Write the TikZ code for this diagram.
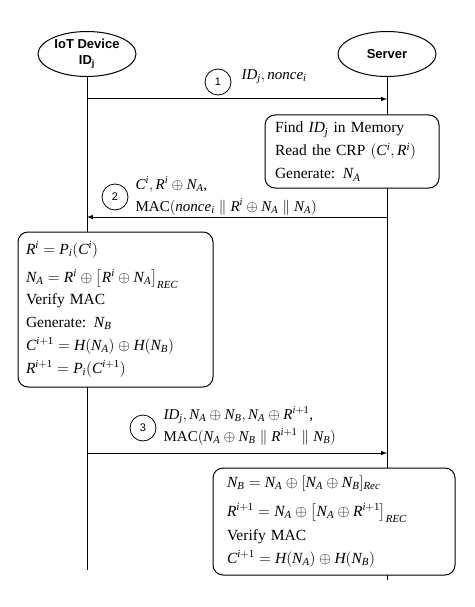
\RequirePackage{fix-cm}
\documentclass[tikz,border=0pt]{standalone}
\usepackage{amsmath}
\usepackage{mathspec}
\setmainfont{Liberation Serif}
\setmathsfont(Digits,Latin){Liberation Serif}
\newfontfamily\headfont{Liberation Sans}
\usetikzlibrary{shapes,arrows,positioning}
\tikzstyle{actor} = [ellipse, draw, line width=1pt, minimum width=98pt, minimum height=45pt, align=center, inner sep=1pt, font=\headfont\bfseries\fontsize{13}{16}\selectfont]
\tikzstyle{calc} = [draw, rounded corners=10pt, line width=1pt, fill=white, align=left, font=\fontsize{15.5}{23}\selectfont]
\tikzstyle{num} = [circle, draw, line width=0.8pt, minimum size=26pt, inner sep=0pt, font=\headfont\fontsize{11}{11}\selectfont]
\tikzstyle{msg} = [draw=none, fill=none, anchor=west, align=left, inner sep=0pt, font=\fontsize{15}{22}\selectfont]
\tikzstyle{tedge}  = [draw, line width=1pt, >=latex, ->]
\tikzstyle{lifeline} = [draw, line width=1pt]

\begin{document}
\begin{tikzpicture}[x=1pt,y=-1pt]
\useasboundingbox (0,0) rectangle (474,607);

% actors =============================
\node[actor] (dev) at (87,54) {IoT Device\\ID\textsubscript{j}};
\node[actor] (srv) at (387,54) {Server};

% lifelines
\coordinate (devend) at (87,570);
\coordinate (srvend) at (387,580);
\path[lifeline] (dev.south) -- (devend);
\path[lifeline] (srv.south) -- (srvend);

% message 1
\coordinate (d1) at (87,99);
\coordinate (s1) at (387,99);
\path[tedge] (d1) -- (s1);
\node[num] (n1) at (218,82) {1};
\node[msg, right=10pt of n1, yshift=5pt] (m1) {$ID_j, nonce_i$};

% server: lookup
\node[calc, text width=154pt, inner xsep=10pt, minimum height=73pt] (look) at (352,151.5)
  {Find $ID_j$ in Memory\\
   Read the CRP $(C^i, R^i)$\\
   Generate: $N_A$};

% message 2
\coordinate (s2) at (387,217);
\coordinate (d2) at (87,217);
\path[tedge] (s2) -- (d2);
\node[num] (n2) at (115,197) {2};
\node[msg, right=7pt of n2, yshift=1pt] (m2)
  {$C^i, R^i \oplus N_A$,\\
   MAC$(nonce_i \parallel R^i \oplus N_A \parallel N_A)$};

% device: verify and update
\node[calc, text width=179pt, inner xsep=8pt, minimum height=155pt] (devcalc) at (115.5,309.5)
  {$R^i = P_i(C^i)$\\[5pt]
   $N_A = R^i \oplus \bigl[R^i \oplus N_A\bigr]_{REC}$\\[-1pt]
   Verify MAC\\
   Generate: $N_B$\\
   $C^{i+1} = H(N_A) \oplus H(N_B)$\\
   $R^{i+1} = P_i(C^{i+1})$};

% message 3
\coordinate (d3) at (87,453);
\coordinate (s3) at (387,453);
\path[tedge] (d3) -- (s3);
\node[num] (n3) at (143,428) {3};
\node[msg, right=7pt of n3, yshift=2pt] (m3)
  {$ID_j, N_A \oplus N_B, N_A \oplus R^{i+1}$,\\
   MAC$(N_A \oplus N_B \parallel R^{i+1} \parallel N_B)$};

% server: verify
\node[calc, text width=214pt, inner xsep=14pt, minimum height=107pt] (srvcalc) at (334,521.5)
  {$N_B = N_A \oplus [N_A \oplus N_B]_{Rec}$\\[6pt]
   $R^{i+1} = N_A \oplus \bigl[N_A \oplus R^{i+1}\bigr]_{REC}$\\[1pt]
   Verify MAC\\
   $C^{i+1} = H(N_A) \oplus H(N_B)$};

\end{tikzpicture}
\end{document}
